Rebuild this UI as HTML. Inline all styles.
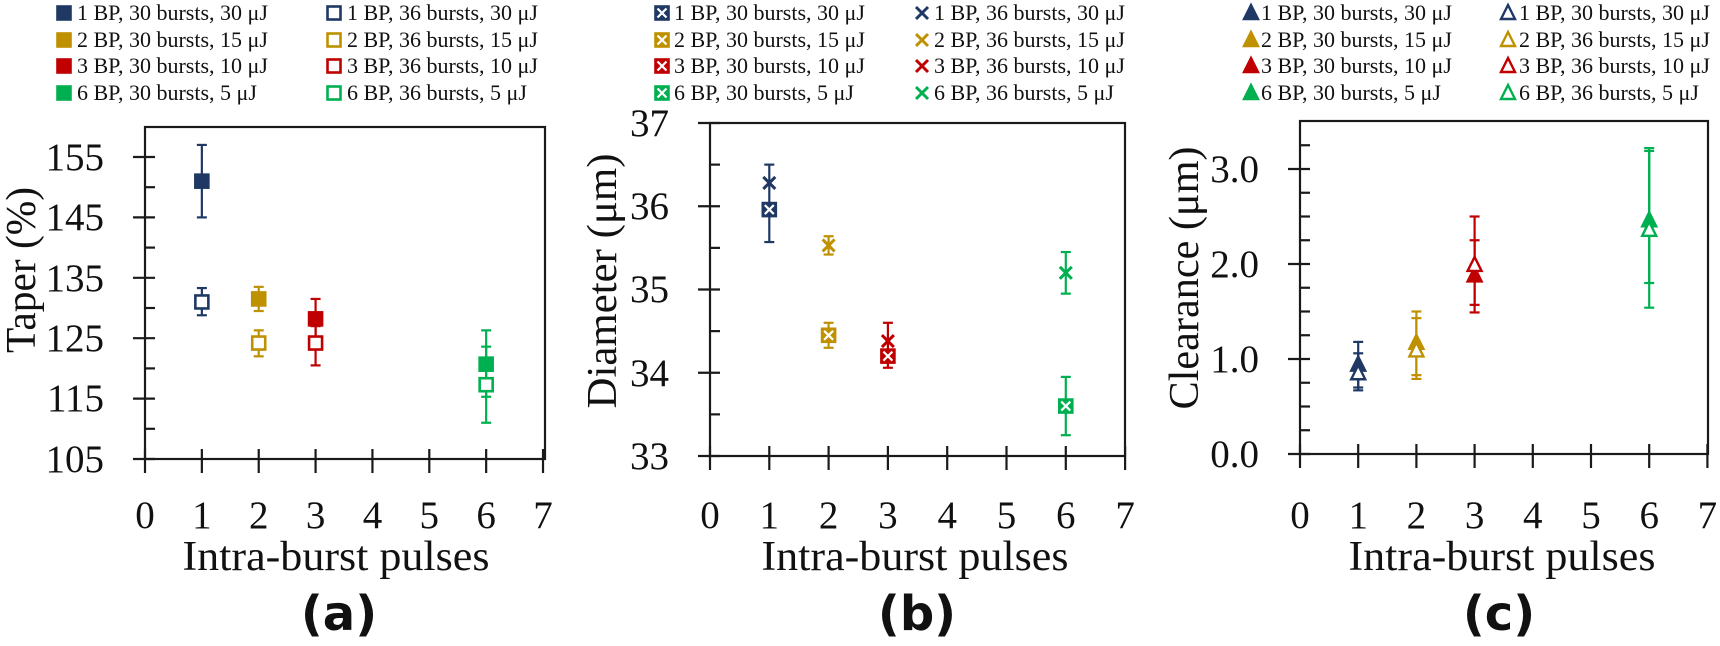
<!DOCTYPE html>
<html><head><meta charset="utf-8"><style>
html,body{margin:0;padding:0;background:#fff;}
svg{display:block;}
text{font-family:"Liberation Serif",serif;fill:#111;}
.lg text{font-size:22px;}
.tk text{font-size:39px;}
.ti text{font-size:42px;}
.pl text{font-family:"DejaVu Sans",sans-serif;font-weight:bold;font-size:48px;fill:#111;}
</style></head><body>
<svg id="s" width="1720" height="646" viewBox="0 0 1720 646" xmlns="http://www.w3.org/2000/svg">
<g class="lg">
<text x="77" y="20">1 BP, 30 bursts, 30 μJ</text>
<text x="77" y="47">2 BP, 30 bursts, 15 μJ</text>
<text x="77" y="73">3 BP, 30 bursts, 10 μJ</text>
<text x="77" y="100">6 BP, 30 bursts, 5 μJ</text>
<text x="347" y="20">1 BP, 36 bursts, 30 μJ</text>
<text x="347" y="47">2 BP, 36 bursts, 15 μJ</text>
<text x="347" y="73">3 BP, 36 bursts, 10 μJ</text>
<text x="347" y="100">6 BP, 36 bursts, 5 μJ</text>
<text x="674" y="20">1 BP, 30 bursts, 30 μJ</text>
<text x="674" y="47">2 BP, 30 bursts, 15 μJ</text>
<text x="674" y="73">3 BP, 30 bursts, 10 μJ</text>
<text x="674" y="100">6 BP, 30 bursts, 5 μJ</text>
<text x="934" y="20">1 BP, 36 bursts, 30 μJ</text>
<text x="934" y="47">2 BP, 36 bursts, 15 μJ</text>
<text x="934" y="73">3 BP, 36 bursts, 10 μJ</text>
<text x="934" y="100">6 BP, 36 bursts, 5 μJ</text>
<text x="1261" y="20">1 BP, 30 bursts, 30 μJ</text>
<text x="1261" y="47">2 BP, 30 bursts, 15 μJ</text>
<text x="1261" y="73">3 BP, 30 bursts, 10 μJ</text>
<text x="1261" y="100">6 BP, 30 bursts, 5 μJ</text>
<text x="1519" y="20">1 BP, 30 bursts, 30 μJ</text>
<text x="1519" y="47">2 BP, 36 bursts, 15 μJ</text>
<text x="1519" y="73">3 BP, 36 bursts, 10 μJ</text>
<text x="1519" y="100">6 BP, 36 bursts, 5 μJ</text>
</g>
<g class="tk" text-anchor="end">
<text x="104" y="170">155</text><text x="104" y="230">145</text><text x="104" y="291">135</text><text x="104" y="351">125</text><text x="104" y="411">115</text><text x="104" y="472">105</text>
<text x="669" y="136">37</text><text x="669" y="219">36</text><text x="669" y="302">35</text><text x="669" y="386">34</text><text x="669" y="469">33</text>
<text x="1259" y="182">3.0</text><text x="1259" y="277">2.0</text><text x="1259" y="372">1.0</text><text x="1259" y="467">0.0</text>
</g>
<g class="tk" text-anchor="middle" id="xl"></g>
<g class="ti" text-anchor="middle">
<text x="336" y="570" textLength="307" lengthAdjust="spacingAndGlyphs">Intra-burst pulses</text>
<text x="915" y="570" textLength="307" lengthAdjust="spacingAndGlyphs">Intra-burst pulses</text>
<text x="1502" y="570" textLength="307" lengthAdjust="spacingAndGlyphs">Intra-burst pulses</text>
<text transform="translate(35,270) rotate(-90)" textLength="166" lengthAdjust="spacingAndGlyphs">Taper (%)</text>
<text transform="translate(616,281) rotate(-90)" textLength="255" lengthAdjust="spacingAndGlyphs">Diameter (μm)</text>
<text transform="translate(1198,278) rotate(-90)" textLength="263" lengthAdjust="spacingAndGlyphs">Clearance (μm)</text>
</g>
<g class="pl" text-anchor="middle">
<text x="339" y="630">(a)</text>
<text x="917" y="630">(b)</text>
<text x="1499" y="630">(c)</text>
</g>
<g id="g"></g>
</svg>
<script>
var C={n:"#1f3864",g:"#bf9000",r:"#c00000",e:"#00b050"};
var h="";
function L(x1,y1,x2,y2,c,w){h+='<line x1="'+x1+'" y1="'+y1+'" x2="'+x2+'" y2="'+y2+'" stroke="'+(c||"#1a1a1a")+'" stroke-width="'+(w||2.2)+'"/>';}
function axes(x0,x1,y0,y1,dx,yt){
  h+='<rect x="'+x0+'" y="'+y0+'" width="'+(x1-x0)+'" height="'+(y1-y0)+'" fill="none" stroke="#1a1a1a" stroke-width="2.2"/>';
  for(var i=0;i<=7;i++){var x=x0+dx*i;L(x,y1-10,x,y1+14);}
  yt.forEach(function(t){ if(t[1]) L(x0-12,t[0],x0+10,t[0]); else L(x0,t[0],x0+10,t[0]);});
}
var xl="";
function xlab(x0,dx,y){for(var i=0;i<=7;i++)xl+='<text x="'+(x0+dx*i)+'" y="'+y+'">'+i+'</text>';}
var Ya=function(v){return 459-(v-105)*6.04},Xa=function(v){return 145+56.86*v};
var t=[];for(var v=105;v<=155;v+=5)t.push([Ya(v),(v-105)%10==0]);
axes(145,545,127,459,56.86,t);xlab(145,56.86,528);
var Yb=function(v){return 456-(v-33)*83.25},Xb=function(v){return 710+59.3*v};
t=[];for(var v=33;v<=37.01;v+=0.5)t.push([Yb(v),Math.abs(v-Math.round(v))<0.01]);
axes(710,1125,123,456,59.3,t);xlab(710,59.3,528);
var Yc=function(v){return 454-v*95},Xc=function(v){return 1300+58.2*v};
t=[];for(var v=0;v<=3.26;v+=0.25)t.push([Yc(v),Math.abs(v-Math.round(v))<0.01]);
axes(1300,1708,121,454,58.2,t);xlab(1300,58.2,528);
document.getElementById("xl").innerHTML=xl;
function eb(x,yt,yb,c){L(x,yt,x,yb,c,2.2);L(x-5,yt,x+5,yt,c,2.2);L(x-5,yb,x+5,yb,c,2.2);}
function sq(x,y,c,f){h+='<rect x="'+(x-6.5)+'" y="'+(y-6.5)+'" width="13" height="13" fill="'+(f?c:"#fff")+'" stroke="'+c+'" stroke-width="2.6"/>';}
function xs(x,y,c){sq(x,y,c,1);L(x-4.5,y-4.5,x+4.5,y+4.5,"#fff",2.2);L(x-4.5,y+4.5,x+4.5,y-4.5,"#fff",2.2);}
function cr(x,y,c){L(x-6,y-6,x+6,y+6,c,3);L(x-6,y+6,x+6,y-6,c,3);}
function tri(x,y,c,f){h+='<polygon points="'+x+','+(y-8)+' '+(x+7)+','+(y+6)+' '+(x-7)+','+(y+6)+'" fill="'+(f?c:"#fff")+'" stroke="'+c+'" stroke-width="2.4"/>';}
var rows=[13,40,66,93],cs=[C.n,C.g,C.r,C.e];
rows.forEach(function(y,i){var c=cs[i];
 sq(64,y,c,1); sq(334,y,c,0); xs(662,y,c); cr(922,y,c); tri(1251,y,c,1); tri(1508,y,c,0);});
eb(Xa(1),Ya(157),Ya(145),C.n);sq(Xa(1),Ya(151),C.n,1);
eb(Xa(1),Ya(133.3),Ya(128.8),C.n);sq(Xa(1),Ya(131),C.n,0);
eb(Xa(2),Ya(133.5),Ya(129.5),C.g);sq(Xa(2),Ya(131.5),C.g,1);
eb(Xa(2),Ya(126.3),Ya(122),C.g);sq(Xa(2),Ya(124.2),C.g,0);
eb(Xa(3),Ya(131.5),Ya(125),C.r);sq(Xa(3),Ya(128.2),C.r,1);
eb(Xa(3),Ya(127),Ya(120.5),C.r);sq(Xa(3),Ya(124.2),C.r,0);
eb(Xa(6),Ya(126.3),Ya(111),C.e);eb(Xa(6),Ya(123.6),Ya(115.3),C.e);
sq(Xa(6),Ya(120.7),C.e,1);sq(Xa(6),Ya(117.3),C.e,0);
eb(Xb(1),Yb(36.5),Yb(35.57),C.n);cr(Xb(1),Yb(36.28),C.n);xs(Xb(1),Yb(35.96),C.n);
eb(Xb(2),Yb(35.64),Yb(35.42),C.g);cr(Xb(2),Yb(35.53),C.g);
eb(Xb(2),Yb(34.6),Yb(34.3),C.g);xs(Xb(2),Yb(34.45),C.g);
eb(Xb(3),Yb(34.6),Yb(34.06),C.r);cr(Xb(3),Yb(34.38),C.r);xs(Xb(3),Yb(34.2),C.r);
eb(Xb(6),Yb(35.45),Yb(34.95),C.e);cr(Xb(6),Yb(35.2),C.e);
eb(Xb(6),Yb(33.95),Yb(33.25),C.e);xs(Xb(6),Yb(33.6),C.e);
eb(Xc(1),Yc(1.18),Yc(0.67),C.n);eb(Xc(1),Yc(1.06),Yc(0.7),C.n);tri(Xc(1),Yc(0.94),C.n,1);tri(Xc(1),Yc(0.85),C.n,0);
eb(Xc(2),Yc(1.5),Yc(0.79),C.g);eb(Xc(2),Yc(1.43),Yc(0.83),C.g);tri(Xc(2),Yc(1.17),C.g,1);tri(Xc(2),Yc(1.09),C.g,0);
eb(Xc(3),Yc(2.5),Yc(1.49),C.r);eb(Xc(3),Yc(2.25),Yc(1.57),C.r);tri(Xc(3),Yc(1.88),C.r,1);tri(Xc(3),Yc(1.99),C.r,0);
eb(Xc(6),Yc(3.22),Yc(1.54),C.e);eb(Xc(6),Yc(3.19),Yc(1.8),C.e);tri(Xc(6),Yc(2.46),C.e,1);tri(Xc(6),Yc(2.36),C.e,0);
document.getElementById("g").innerHTML=h;
</script>
</body></html>
